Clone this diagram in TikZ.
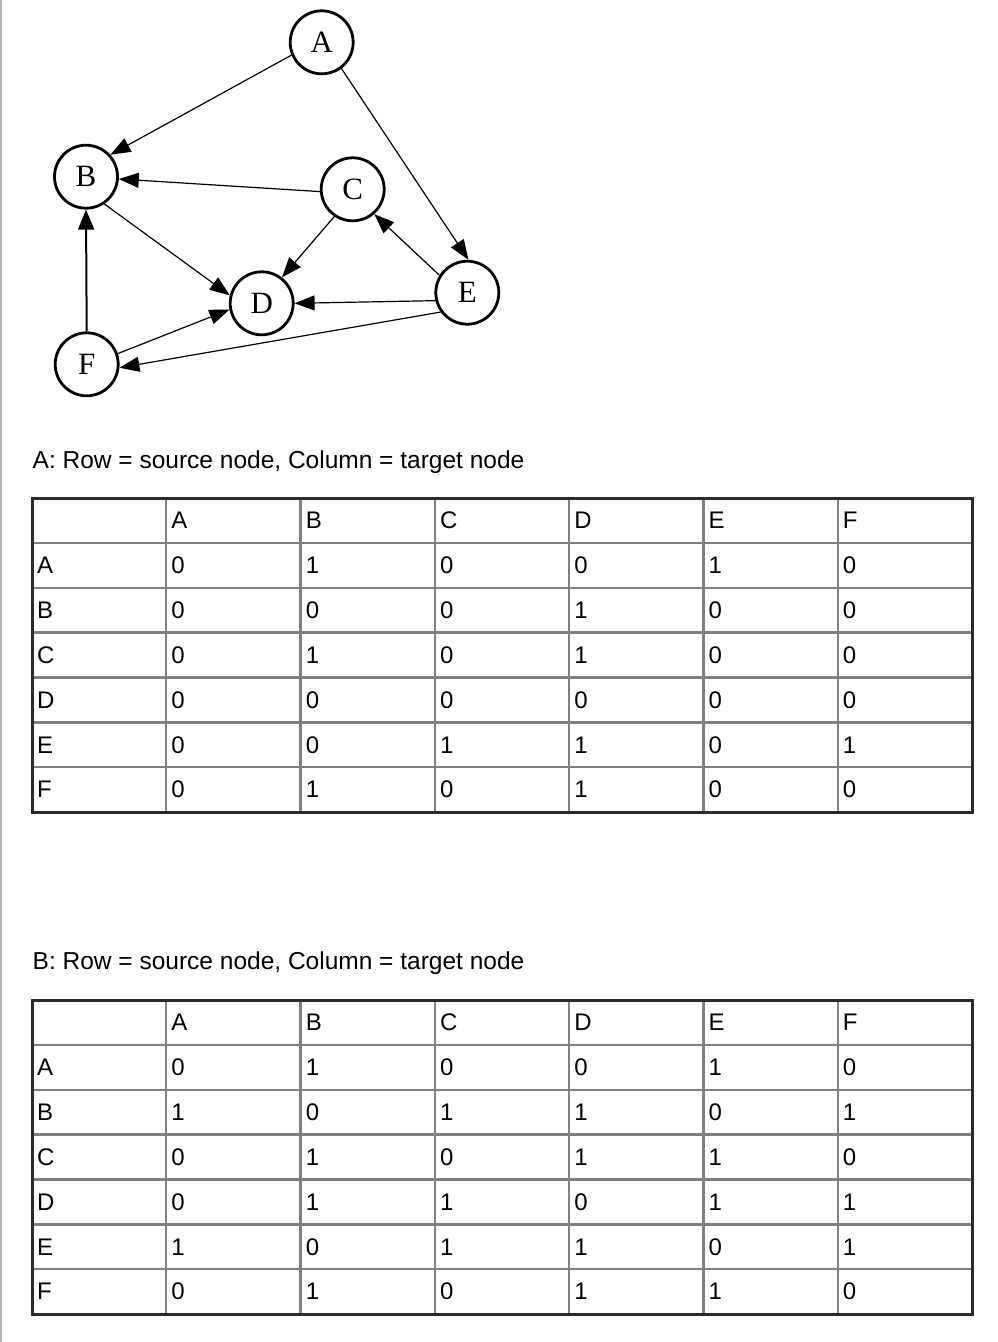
\documentclass[tikz,border=0pt]{standalone}
\usepackage{fontspec}
\setmainfont{Liberation Sans}
\newfontfamily\seriffont{Liberation Serif}
\usetikzlibrary{arrows.meta}
\definecolor{outerline}{HTML}{2B2B2B}
\definecolor{innerline}{HTML}{808080}
\definecolor{sideline}{HTML}{B4B4B4}
\begin{document}
\begin{tikzpicture}[x=1pt,y=-1pt,
  gnode/.style={circle,draw,line width=2.8pt,minimum size=63pt,inner sep=0pt,font=\seriffont\fontsize{31}{31}\selectfont},
  edge/.style={line width=1.2pt,-{Triangle[length=20pt,width=15pt]}},
  thickedge/.style={line width=2pt,-{Triangle[length=20pt,width=16pt]}},
  celltext/.style={anchor=base west,inner sep=0pt,font=\fontsize{24}{24}\selectfont},
  titletext/.style={anchor=base west,inner sep=0pt,font=\fontsize{24.5}{24.5}\selectfont},
  innergrid/.style={draw=innerline,line width=2.4pt},
  outergrid/.style={draw=outerline,line width=3pt}]
\useasboundingbox[fill=white] (0,0) rectangle (998,1342);
\draw[sideline,line width=2pt] (1,0) -- (1,1342);
% graph
\node[gnode] (A) at (321.7,42.3) {A};
\node[gnode] (B) at (86,176.7) {B};
\node[gnode] (C) at (352.7,189.3) {C};
\node[gnode] (D) at (261.7,303.3) {D};
\node[gnode] (E) at (467.3,292.7) {E};
\node[gnode] (F) at (86.7,364.3) {F};
\draw[edge] (A.203) -- (B.42);
\draw[edge] (A.307) -- (E.88);
\draw[edge] (C.184) -- (B.356);
\draw[edge] (B.304) -- (D.166);
\draw[edge] (C.236) -- (D.52);
\draw[edge] (E.148) -- (C.311);
\draw[edge] (E.194) -- (D.0);
\draw[edge] (E.216) -- (F.354);
\draw[edge] (F.19) -- (D.191);
\draw[thickedge] (F.90) -- (B.270);
% titles
\node[titletext] (titleA) at (32.5,468.3) {A: Row = source node, Column = target node};
\node[titletext] (titleB) at (32.5,969.5) {B: Row = source node, Column = target node};
% table A
\foreach \k in {1,...,6}{
  \draw[innergrid] (32,498+44.86*\k) -- (972,498+44.86*\k);
  \draw[innergrid] (32+134.286*\k,498) -- (32+134.286*\k,812);
}
\draw[outergrid] (32,498) rectangle (972,812);
\foreach \row [count=\r from 0] in {{,A,B,C,D,E,F},{A,0,1,0,0,1,0},{B,0,0,0,1,0,0},{C,0,1,0,1,0,0},{D,0,0,0,0,0,0},{E,0,0,1,1,0,1},{F,0,1,0,1,0,0}}{
  \foreach \v [count=\c from 0] in \row {
    \node[celltext] (a-\r-\c) at (32+134.286*\c+5,498+44.86*\r+30.8) {\v};
  }
}
% table B
\foreach \k in {1,...,6}{
  \draw[innergrid] (32,1000+44.86*\k) -- (972,1000+44.86*\k);
  \draw[innergrid] (32+134.286*\k,1000) -- (32+134.286*\k,1314);
}
\draw[outergrid] (32,1000) rectangle (972,1314);
\foreach \row [count=\r from 0] in {{,A,B,C,D,E,F},{A,0,1,0,0,1,0},{B,1,0,1,1,0,1},{C,0,1,0,1,1,0},{D,0,1,1,0,1,1},{E,1,0,1,1,0,1},{F,0,1,0,1,1,0}}{
  \foreach \v [count=\c from 0] in \row {
    \node[celltext] (b-\r-\c) at (32+134.286*\c+5,1000+44.86*\r+30.8) {\v};
  }
}
\end{tikzpicture}
\end{document}
